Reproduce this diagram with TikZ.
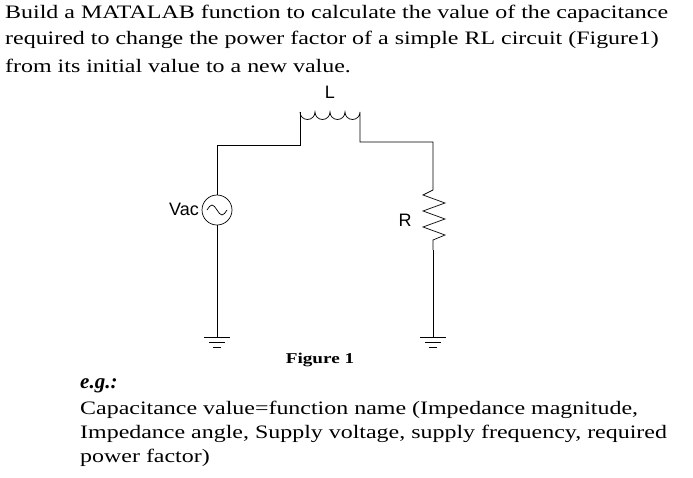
\documentclass[tikz,border=0pt]{standalone}
\usepackage{fontspec}
\setmainfont{Liberation Serif}
\setsansfont{Liberation Sans}
\usetikzlibrary{calc}
\begin{document}
\begin{tikzpicture}[x=1pt,y=-1pt,
  txt/.style={anchor=west,inner sep=0pt,font=\fontsize{19}{22}\selectfont},
  lbl/.style={inner sep=0pt,font=\sffamily\fontsize{18}{20}\selectfont},
  wire/.style={line width=0.7pt},
  gnd/.style={line width=0.7pt}]
\useasboundingbox (0,0) rectangle (693,477);
\node[txt] (t1) at (5,14) {\scalebox{1.26}[1]{Build a MATALAB function to calculate the value of the capacitance}};
\node[txt] (t2) at (5,40) {\scalebox{1.26}[1]{required to change the power factor of a simple RL circuit (Figure1)}};
\node[txt] (t3) at (5,66) {\scalebox{1.26}[1]{from its initial value to a new value.}};
% circuit
\coordinate (a) at (217,145);
\coordinate (b) at (300,145);
\coordinate (c) at (300,112);
\coordinate (e) at (360,142);
\coordinate (f) at (433,142);
\coordinate (g) at (433,187);
\coordinate (h) at (433,250);
\coordinate (gl) at (217,337);
\coordinate (gr) at (433,337);
\node[circle,draw,line width=0.7pt,minimum size=30pt,inner sep=0pt] (src) at (217,210) {};
\draw[line width=0.7pt] (207,210) sin (212,205) cos (217,210) sin (222,215) cos (227,210);
\draw[wire] (src.north) -- (a) -- (b) -- (c);
\draw[wire] (c) arc (180:0:7.5) arc (180:0:7.5) arc (180:0:7.5) arc (180:0:7.5) -- (e) -- (f) -- (g);
\draw[wire] (g) -- ++(0,3) -- ++(-10,5) -- ++(22,8) -- ++(-22,8) -- ++(22,8) -- ++(-22,8) -- ++(22,8) -- ++(-12,5) -- (h);
\draw[wire] (h) -- (gr);
\draw[wire] (src.south) -- (gl);
\foreach \p in {gl,gr}{
  \draw[gnd] ($(\p)+(-13,0)$) -- ($(\p)+(13,0)$);
  \draw[gnd] ($(\p)+(-8,5)$) -- ($(\p)+(8,5)$);
  \draw[gnd] ($(\p)+(-4,10)$) -- ($(\p)+(4,10)$);
}
\node[lbl] (L) at (330,92) {L};
\node[lbl,anchor=east] (V) at (199,209) {Vac};
\node[lbl] (R) at (405,220) {R};
\node[inner sep=0pt,font=\bfseries\fontsize{15}{17}\selectfont] (fig) at (320,360) {\scalebox{1.28}[1]{Figure 1}};
\node[txt,font=\bfseries\itshape\fontsize{21}{22}\selectfont] (eg) at (80,386) {e.g.:};
\node[txt] (b1) at (80,410) {\scalebox{1.26}[1]{Capacitance value=function name (Impedance magnitude,}};
\node[txt] (b2) at (80,434) {\scalebox{1.26}[1]{Impedance angle, Supply voltage, supply frequency, required}};
\node[txt] (b3) at (80,458) {\scalebox{1.26}[1]{power factor)}};
\end{tikzpicture}
\end{document}
